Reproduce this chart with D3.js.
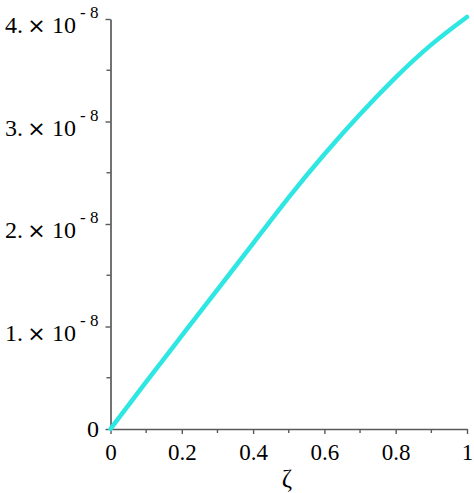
<!DOCTYPE html>
<html>
<head>
<meta charset="utf-8">
<script src="https://cdn.jsdelivr.net/npm/d3@7"></script>
<style>
  body { margin: 0; background: #fff; }
  text { font-family: "Liberation Serif", "Times New Roman", serif; fill: #000; }
</style>
</head>
<body>
<div id="chart"></div>
<script>
// values
var zeta = [0, 0.1, 0.2, 0.3, 0.4, 0.5, 0.6, 0.7, 0.8, 0.9, 1.0];
var values = [0, 0.46e-8, 0.91e-8, 1.36e-8, 1.81e-8, 2.26e-8, 2.68e-8, 3.07e-8, 3.43e-8, 3.75e-8, 4.02e-8];
var xTicks = [0, 0.2, 0.4, 0.6, 0.8, 1];
var xMinor = [0.1, 0.3, 0.5, 0.7, 0.9];
var yTicks = [0, 1e-8, 2e-8, 3e-8, 4e-8];
var yMinor = [0.5e-8, 1.5e-8, 2.5e-8, 3.5e-8];
var yMant = ["0", "1.", "2.", "3.", "4."];

var width = 474;
var height = 493;

var svg = d3.select("#chart")
    .append("svg")
    .attr("width", width)
    .attr("height", height);

var x = d3.scaleLinear()
    .domain([0, 1])
    .range([110.5, 467]);

var y = d3.scaleLinear()
    .domain([0, 4e-8])
    .range([429, 19]);

var axisColor = "#5a5a5a";

// x axis
var gx = svg.append("g")
    .attr("transform", `translate(0, ${y(0)})`);
gx.call(d3.axisBottom(x).tickValues(xTicks).tickSize(5).tickSizeOuter(0).tickFormat(d3.format("")))
gx.selectAll(".domain").attr("stroke", axisColor).attr("stroke-width", 1.7);
gx.selectAll(".tick line").attr("stroke", axisColor).attr("stroke-width", 1.4);
gx.selectAll(".tick text")
    .attr("y", 31)
    .attr("dy", null)
    .style("font-size", "23px")
    .style("font-family", "Liberation Serif, serif")
    .attr("fill", "#000");
gx.selectAll(".minor")
    .data(xMinor)
    .enter()
    .append("line")
    .attr("x1", (d) => x(d))
    .attr("x2", (d) => x(d))
    .attr("y1", 0)
    .attr("y2", 4)
    .attr("stroke", axisColor)
    .attr("stroke-width", 1.4);

// y axis
var gy = svg.append("g")
    .attr("transform", `translate(${x(0)}, 0)`);
gy.call(d3.axisLeft(y).tickValues(yTicks).tickSize(5).tickSizeOuter(0).tickFormat(""));
gy.selectAll(".domain").attr("stroke", axisColor).attr("stroke-width", 1.7);
gy.selectAll(".tick line").attr("stroke", axisColor).attr("stroke-width", 1.4);
gy.selectAll(".minor")
    .data(yMinor)
    .enter()
    .append("line")
    .attr("x1", -4)
    .attr("x2", 0)
    .attr("y1", (d) => y(d))
    .attr("y2", (d) => y(d))
    .attr("stroke", axisColor)
    .attr("stroke-width", 1.4);

// y tick labels like "3. × 10^-8", pieces placed left of the axis
yTicks.forEach(function (v, i) {
    var ty = y(v);
    var g = svg.append("g").style("font-size", "24px");
    if (v === 0) {
        g.append("text").attr("x", 99).attr("y", ty + 8)
            .attr("text-anchor", "end").text(yMant[i]);
        return;
    }
    g.append("text").attr("x", 23).attr("y", ty + 14)
        .attr("text-anchor", "end").text(yMant[i]);
    g.append("text").attr("x", 36.5).attr("y", ty + 14)
        .attr("text-anchor", "middle")
        .style("font-size", "22px")
        .style("font-family", "DejaVu Sans, sans-serif")
        .text("\u00d7");
    g.append("text").attr("x", 76).attr("y", ty + 14)
        .attr("text-anchor", "end").text("10");
    g.append("text").attr("x", 80).attr("y", ty - 1)
        .style("font-size", "17px")
        .text("-");
    g.append("text").attr("x", 90).attr("y", ty - 1)
        .style("font-size", "17px")
        .text("8");
});

// axis title
svg.append("text")
    .attr("x", 287)
    .attr("y", 487)
    .attr("text-anchor", "middle")
    .style("font-size", "25px")
    .text("\u03b6");

// curve
var line = d3.line()
    .x((d, i) => x(zeta[i]))
    .y((d) => y(d))
    .curve(d3.curveNatural);

svg.append("path")
    .datum(values)
    .attr("d", line)
    .attr("fill", "none")
    .attr("stroke", "#2ee6e2")
    .attr("stroke-width", 4.5)
    .attr("stroke-linecap", "round");
</script>
</body>
</html>
